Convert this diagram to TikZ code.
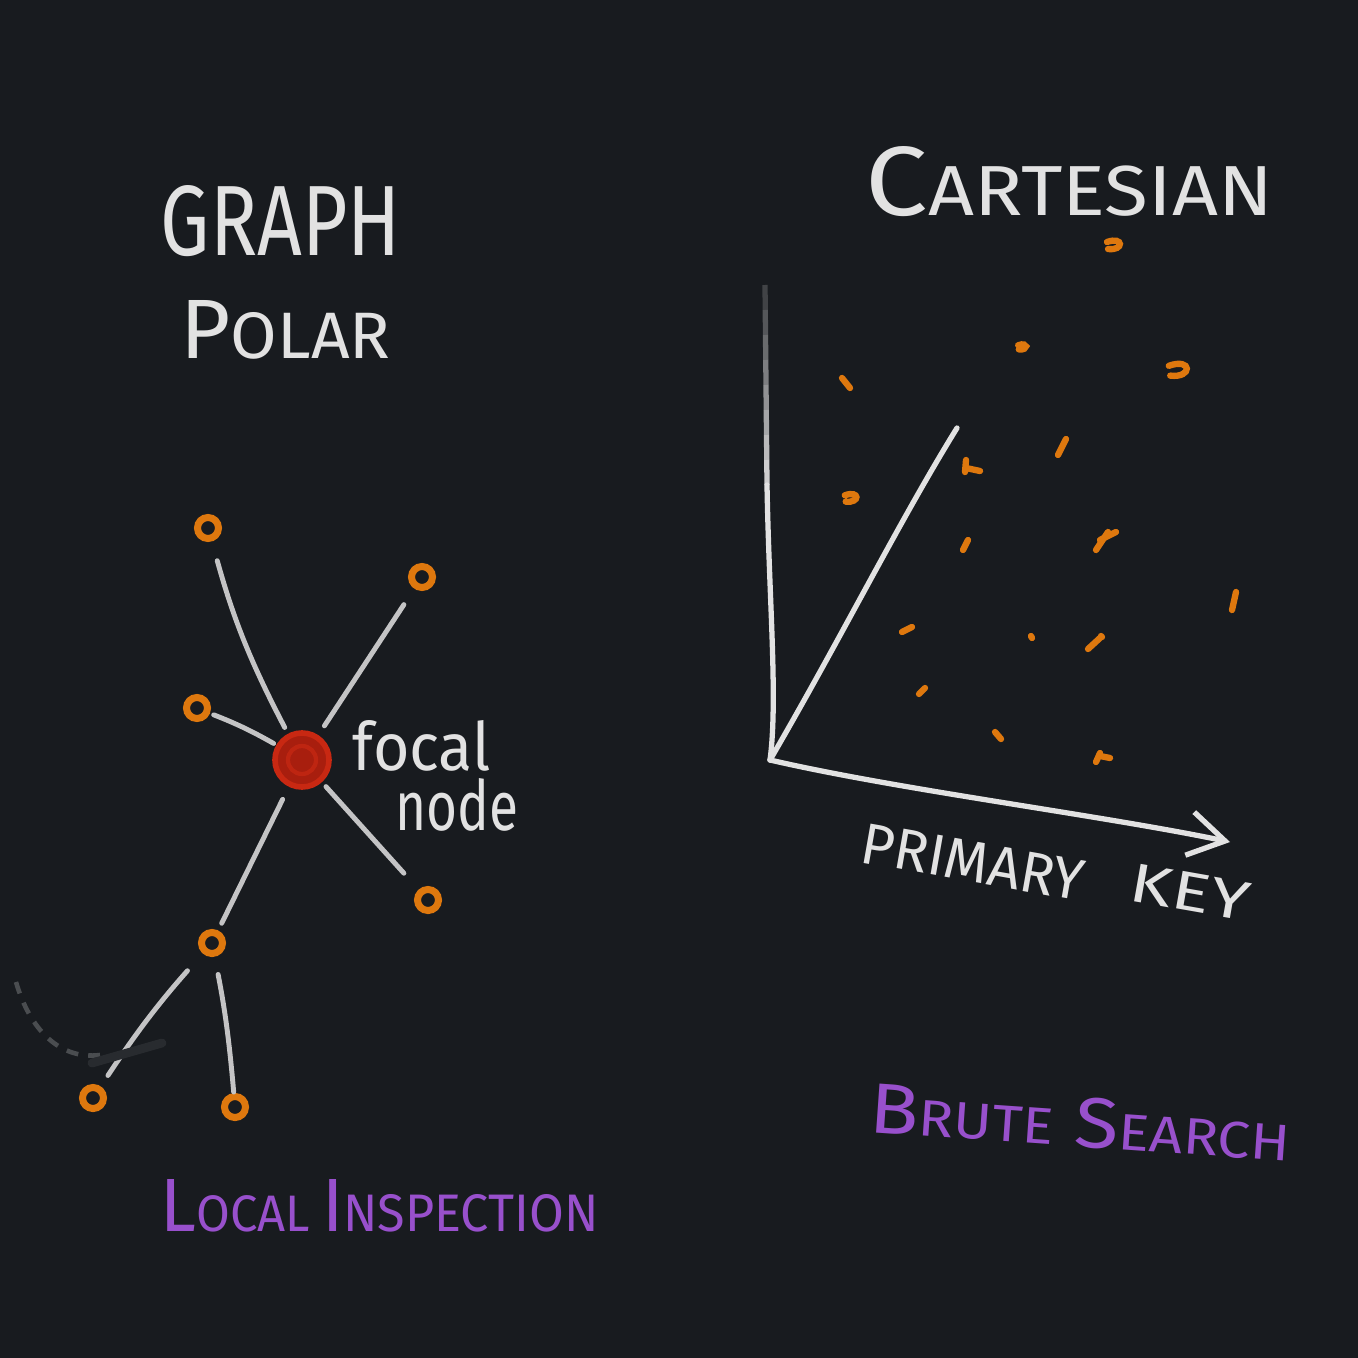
\documentclass[tikz,border=0pt]{standalone}
\usepackage{fontspec}
\setmainfont{Fira Sans}
\usetikzlibrary{arrows.meta}
\definecolor{board}{RGB}{24,27,31}
\definecolor{chalk}{RGB}{226,226,226}
\definecolor{amber}{RGB}{222,120,14}
\definecolor{ember}{RGB}{168,30,14}
\definecolor{flame}{RGB}{200,40,18}
\definecolor{violet}{RGB}{152,80,204}
\newlength{\pxu}
\setlength{\pxu}{0.01cm}
\newcommand{\fitted}[3]{\resizebox{#1\pxu}{#2\pxu}{#3}}

\begin{document}
\begin{tikzpicture}[x=0.01cm, y=-0.01cm,
    words/.style={anchor=base west, inner sep=0pt, text=chalk},
    leaf/.style={circle, draw=amber, line width=2pt, minimum size=0.21cm, inner sep=0pt},
    hub/.style={circle, fill=ember, draw=flame, line width=1.6pt, minimum size=0.54cm, inner sep=0pt},
    edge/.style={chalk!85!board, line width=1.4pt, line cap=round},
    axis/.style={chalk, line width=1.5pt, line cap=round},
    speck/.style={amber, line width=1.8pt, line cap=round}]
  \fill[board] (0,0) rectangle (1358,1358);

  \node[words] (graph) at (160,255) {\fitted{240}{70}{GRAPH}};
  \node[words] (polar) at (180,358) {\fitted{210}{58}{P\scalebox{0.78}{OLAR}}};
  \node[words] (cartesian) at (865,216) {\fitted{407}{69}{C\scalebox{0.72}{ARTESIAN}}};
  \node[words] (focaltxt) at (352,770) {\fitted{138}{50}{focal}};
  \node[words] (nodetxt) at (395,830) {\fitted{123}{52}{node}};
  \node[words, rotate=-10] (primary) at (858,862) {\fitted{225}{40}{PRIMARY}};
  \node[words, rotate=-10] (key) at (1127,900) {\fitted{120}{38}{KEY}};
  \node[words, text=violet, rotate=-4] (brute) at (868,1132)
       {\fitted{421}{50}{B\scalebox{0.72}{RUTE} S\scalebox{0.72}{EARCH}}};
  \node[words, text=violet] (local) at (160,1231)
       {\fitted{438}{52}{L\scalebox{0.68}{OCAL}\,I\scalebox{0.7}{NSPECTION}}};

  \node[hub] (f) at (302,760) {};
  \draw[flame!70!ember, line width=1.2pt] (f) circle (14);
  \foreach \n/\x/\y in {n1/208/528, n2/422/577, n3/197/708, n4/428/900,
                        n5/212/943, n6/93/1098, n7/235/1107}
    \node[leaf] (\n) at (\x,\y) {};
  \foreach \a/\b/\s/\t/\bend in {f/n1/0.07/0.2/6, f/n2/0.11/0.19/0, f/n3/0.03/0.04/-4,
                                 f/n4/0.06/0.22/0, f/n5/0.14/0.08/0,
                                 n5/n6/0.23/0.13/-4, n5/n7/0.18/0.01/3}
    \draw[edge, shorten <=\s cm, shorten >=\t cm] (\a) to[bend left=\bend] (\b);
  \draw[chalk!25!board, line width=1.3pt, dash pattern=on 0.12cm off 0.1cm]
       (16,982) .. controls (30,1030) and (60,1060) .. (100,1055);
  \draw[chalk!8!board, line width=2.5pt, line cap=round] (92,1063) -- (162,1043);

  \coordinate (o) at (770,760);
  \coordinate (ytop) at (765,285);
  \coordinate (dtop) at (957,428);
  \coordinate (xend) at (1230,842);
  \foreach \i [evaluate=\i as \p using 20+\i*10] in {0,...,7}
    \draw[axis, line cap=butt, chalk!\p!board] (765+\i*0.25,285+\i*25) -- (765.25+\i*0.25,310+\i*25);
  \draw[axis] (767,485) .. controls (769,600) and (778,700) .. (o);
  \draw[axis] (o) .. controls (840,640) and (900,520) .. (dtop);
  \draw[axis, -{Straight Barb[length=0.36cm, width=0.44cm]}]
       (o) .. controls (900,790) and (1100,815) .. (xend);

  \foreach \x/\y/\s in {1115/245/1, 852/498/0.9, 1180/370/1.4, 1023/347/0.6}
    \draw[speck] (\x-8*\s,\y-3*\s) .. controls (\x+9*\s,\y-9*\s) and (\x+9*\s,\y+6*\s) .. (\x-7*\s,\y+4*\s);
  \foreach \x/\y/\u/\v in {842/378/8/10, 966/460/-1/12, 966/468/14/3, 1058/455/8/-16,
                           963/550/5/-10, 1096/550/12/-18, 1100/540/16/-8, 1232/610/4/-18,
                           902/632/10/-5, 1031/636/1/2, 1088/649/12/-11, 1101/636/1/1,
                           919/694/6/-6, 995/732/6/7, 1096/762/4/-9, 1100/756/10/2}
    \draw[speck] (\x,\y) -- ++(\u,\v);
\end{tikzpicture}
\end{document}
